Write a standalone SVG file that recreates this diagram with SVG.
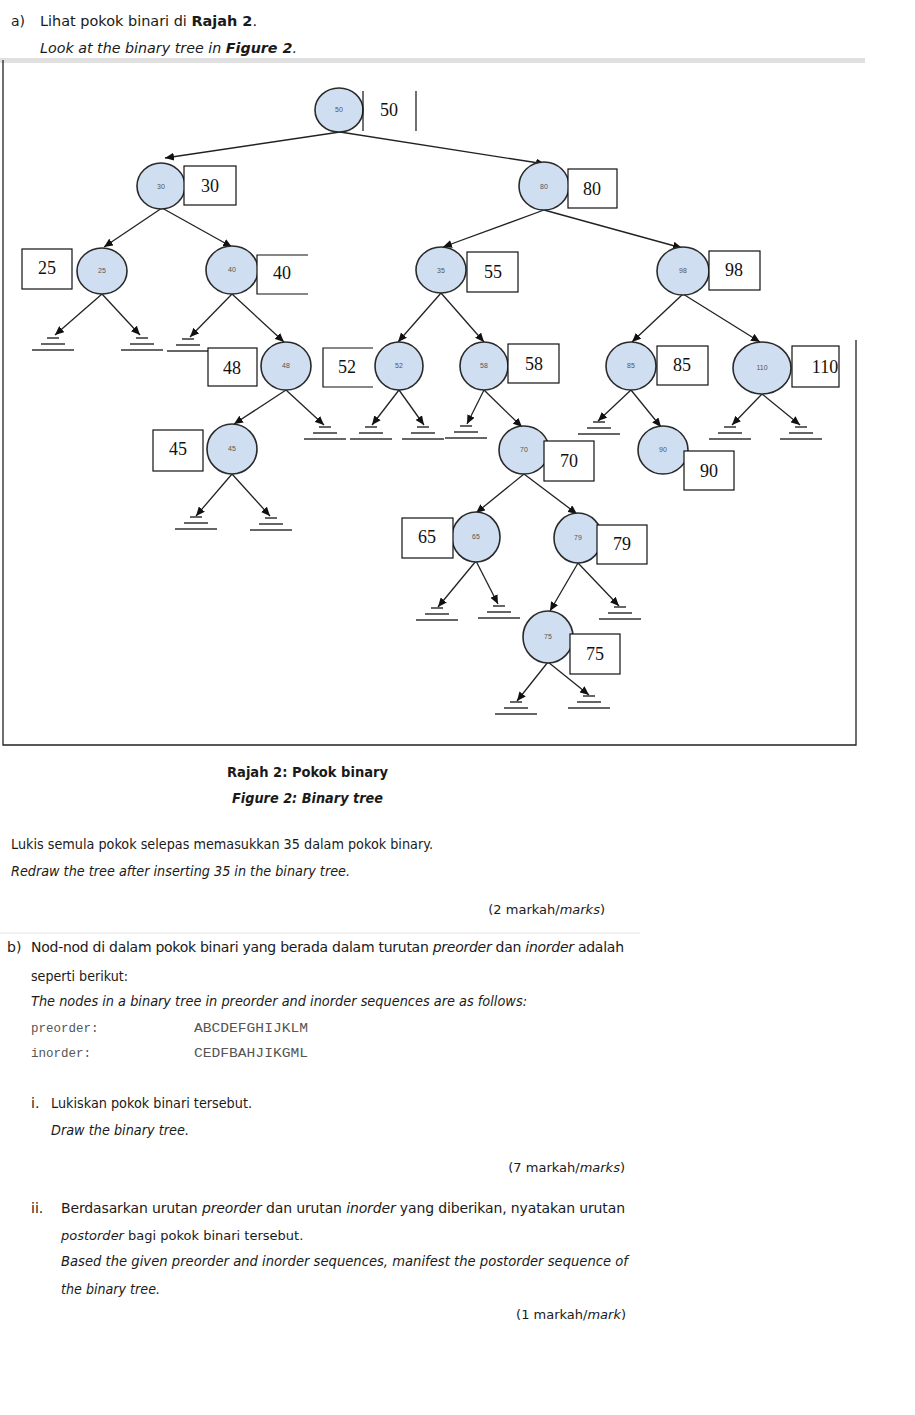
<svg xmlns="http://www.w3.org/2000/svg" xmlns:xlink="http://www.w3.org/1999/xlink" width="915" height="1415" viewBox="0 0 915 1415">
<style>
.t{font-family:"DejaVu Sans","Liberation Sans",sans-serif;font-size:14px;fill:#1a1a1a}
.s{font-size:13px}
.i{font-style:italic}
.b{font-weight:bold}
.m{font-family:"Liberation Mono",monospace;font-size:12.5px;fill:#555}
.nd{fill:#cfdff1;stroke:#2a2a2a;stroke-width:1.6}
.nt{font-family:"Liberation Sans",sans-serif;font-size:7px;fill:#555;text-anchor:middle}
.bx{fill:#fff;stroke:#111;stroke-width:1.2}
.bl{fill:none;stroke:#111;stroke-width:1.2}
.bt{font-family:"Liberation Serif",serif;font-size:18px;fill:#111;text-anchor:middle}
.e{stroke:#222;stroke-width:1.3;fill:none;marker-end:url(#ah)}
.g line{stroke:#333;stroke-width:1.5}
.fr{stroke:#222;stroke-width:1.3;fill:none}
</style>
<defs>
<marker id="ah" markerUnits="userSpaceOnUse" markerWidth="10" markerHeight="8" refX="9" refY="4" orient="auto">
<path d="M0,0 L9,4 L0,8 z" fill="#111"/>
</marker>
<g id="gnd" class="g">
<line x1="-6" y1="0" x2="6" y2="0"/>
<line x1="-12" y1="6" x2="12" y2="6"/>
<line x1="-21" y1="12" x2="21" y2="12"/>
</g>
</defs>
<rect width="915" height="1415" fill="#fff"/>

<g id="header">
<text x="11" y="26" class="t">a)</text>
<text x="40" y="26" class="t" textLength="217" lengthAdjust="spacingAndGlyphs">Lihat pokok binari di <tspan class="b">Rajah 2</tspan>.</text>
<text x="40" y="53" class="t i" textLength="257" lengthAdjust="spacingAndGlyphs">Look at the binary tree in <tspan class="b">Figure 2</tspan>.</text>
</g>

<g id="frame">
<rect x="0" y="58" width="865" height="5" fill="#e0e0e0"/>
<path class="fr" d="M3,60 V745 H856 V340"/>
</g>

<g id="connectors">
<line class="e" x1="340" y1="132" x2="165" y2="158"/>
<line class="e" x1="340" y1="132" x2="545" y2="164"/>
<line class="e" x1="162" y1="208" x2="104" y2="247"/>
<line class="e" x1="162" y1="208" x2="232" y2="247"/>
<line class="e" x1="544" y1="210" x2="443" y2="247"/>
<line class="e" x1="544" y1="210" x2="682" y2="248"/>
<line class="e" x1="102" y1="294" x2="55" y2="335"/>
<line class="e" x1="102" y1="294" x2="140" y2="335"/>
<line class="e" x1="232" y1="294" x2="190" y2="337"/>
<line class="e" x1="232" y1="294" x2="284" y2="342"/>
<line class="e" x1="441" y1="293" x2="398" y2="342"/>
<line class="e" x1="441" y1="293" x2="484" y2="342"/>
<line class="e" x1="683" y1="294" x2="632" y2="342"/>
<line class="e" x1="683" y1="294" x2="760" y2="342"/>
<line class="e" x1="286" y1="390" x2="234" y2="424"/>
<line class="e" x1="286" y1="390" x2="324" y2="425"/>
<line class="e" x1="399" y1="390" x2="372" y2="425"/>
<line class="e" x1="399" y1="390" x2="424" y2="425"/>
<line class="e" x1="484" y1="390" x2="467" y2="424"/>
<line class="e" x1="484" y1="390" x2="522" y2="427"/>
<line class="e" x1="631" y1="390" x2="598" y2="421"/>
<line class="e" x1="631" y1="390" x2="661" y2="427"/>
<line class="e" x1="762" y1="394" x2="732" y2="425"/>
<line class="e" x1="762" y1="394" x2="800" y2="425"/>
<line class="e" x1="232" y1="474" x2="196" y2="516"/>
<line class="e" x1="232" y1="474" x2="270" y2="516"/>
<line class="e" x1="524" y1="474" x2="476" y2="513"/>
<line class="e" x1="524" y1="474" x2="577" y2="514"/>
<line class="e" x1="476" y1="561" x2="438" y2="607"/>
<line class="e" x1="476" y1="561" x2="498" y2="604"/>
<line class="e" x1="578" y1="563" x2="550" y2="611"/>
<line class="e" x1="578" y1="563" x2="619" y2="606"/>
<line class="e" x1="548" y1="662" x2="517" y2="701"/>
<line class="e" x1="548" y1="662" x2="589" y2="695"/>
</g>

<g id="grounds">
<use xlink:href="#gnd" x="53" y="338"/>
<use xlink:href="#gnd" x="142" y="338"/>
<use xlink:href="#gnd" x="188" y="339"/>
<use xlink:href="#gnd" x="325" y="427"/>
<use xlink:href="#gnd" x="371" y="427"/>
<use xlink:href="#gnd" x="423" y="427"/>
<use xlink:href="#gnd" x="466" y="426"/>
<use xlink:href="#gnd" x="599" y="422"/>
<use xlink:href="#gnd" x="730" y="427"/>
<use xlink:href="#gnd" x="801" y="427"/>
<use xlink:href="#gnd" x="196" y="517"/>
<use xlink:href="#gnd" x="271" y="518"/>
<use xlink:href="#gnd" x="437" y="608"/>
<use xlink:href="#gnd" x="499" y="606"/>
<use xlink:href="#gnd" x="620" y="607"/>
<use xlink:href="#gnd" x="516" y="702"/>
<use xlink:href="#gnd" x="589" y="696"/>
</g>

<g id="n50"><ellipse class="nd" cx="339" cy="110" rx="24" ry="22"/><text class="nt" x="339" y="112">50</text>
<line class="bl" x1="363" y1="91" x2="363" y2="131"/><line class="bl" x1="416" y1="91" x2="416" y2="131"/><text class="bt" x="389" y="116">50</text></g>
<g id="n30"><ellipse class="nd" cx="161" cy="186" rx="24" ry="23"/><text class="nt" x="161" y="189">30</text>
<rect class="bx" x="184" y="166" width="52" height="39"/><text class="bt" x="210" y="192">30</text></g>
<g id="n80"><ellipse class="nd" cx="544" cy="186" rx="25" ry="24"/><text class="nt" x="544" y="189">80</text>
<rect class="bx" x="568" y="169" width="49" height="39"/><text class="bt" x="592" y="195">80</text></g>
<g id="n25"><ellipse class="nd" cx="102" cy="271" rx="25" ry="23"/><text class="nt" x="102" y="273">25</text>
<rect class="bx" x="22" y="249" width="50" height="40"/><text class="bt" x="47" y="274">25</text></g>
<g id="n40"><ellipse class="nd" cx="232" cy="270" rx="26" ry="24"/><text class="nt" x="232" y="272">40</text>
<path class="bx" d="M308,255 H257 V294 H308"/><text class="bt" x="282" y="279">40</text></g>
<g id="n35"><ellipse class="nd" cx="441" cy="270" rx="25" ry="23"/><text class="nt" x="441" y="273">35</text>
<rect class="bx" x="467" y="252" width="51" height="40"/><text class="bt" x="493" y="278">55</text></g>
<g id="n98"><ellipse class="nd" cx="683" cy="271" rx="26" ry="24"/><text class="nt" x="683" y="273">98</text>
<rect class="bx" x="709" y="251" width="51" height="39"/><text class="bt" x="734" y="276">98</text></g>
<g id="n48"><ellipse class="nd" cx="286" cy="366" rx="25" ry="24"/><text class="nt" x="286" y="368">48</text>
<rect class="bx" x="208" y="348" width="49" height="38"/><text class="bt" x="232" y="374">48</text></g>
<g id="n52"><ellipse class="nd" cx="399" cy="366" rx="24" ry="24"/><text class="nt" x="399" y="368">52</text>
<path class="bx" d="M373,348 H323 V387 H373"/><text class="bt" x="347" y="373">52</text></g>
<g id="n58"><ellipse class="nd" cx="484" cy="366" rx="24" ry="24"/><text class="nt" x="484" y="368">58</text>
<rect class="bx" x="508" y="344" width="51" height="39"/><text class="bt" x="534" y="370">58</text></g>
<g id="n85"><ellipse class="nd" cx="631" cy="366" rx="25" ry="24"/><text class="nt" x="631" y="368">85</text>
<rect class="bx" x="657" y="346" width="51" height="39"/><text class="bt" x="682" y="371">85</text></g>
<g id="n110"><ellipse class="nd" cx="762" cy="368" rx="29" ry="26"/><text class="nt" x="762" y="370">110</text>
<rect class="bx" x="792" y="346" width="47" height="41"/><text class="bt" x="825" y="373">110</text></g>
<g id="n45"><ellipse class="nd" cx="232" cy="449" rx="25" ry="25"/><text class="nt" x="232" y="451">45</text>
<rect class="bx" x="153" y="430" width="50" height="41"/><text class="bt" x="178" y="455">45</text></g>
<g id="n70"><ellipse class="nd" cx="524" cy="450" rx="25" ry="24"/><text class="nt" x="524" y="452">70</text>
<rect class="bx" x="544" y="441" width="50" height="40"/><text class="bt" x="569" y="467">70</text></g>
<g id="n90"><ellipse class="nd" cx="663" cy="450" rx="25" ry="24"/><text class="nt" x="663" y="452">90</text>
<rect class="bx" x="684" y="451" width="50" height="39"/><text class="bt" x="709" y="477">90</text></g>
<g id="n65"><ellipse class="nd" cx="476" cy="537" rx="24" ry="25"/><text class="nt" x="476" y="539">65</text>
<rect class="bx" x="402" y="518" width="51" height="40"/><text class="bt" x="427" y="543">65</text></g>
<g id="n79"><ellipse class="nd" cx="578" cy="538" rx="24" ry="25"/><text class="nt" x="578" y="540">79</text>
<rect class="bx" x="597" y="525" width="50" height="39"/><text class="bt" x="622" y="550">79</text></g>
<g id="n75"><ellipse class="nd" cx="548" cy="637" rx="25" ry="26"/><text class="nt" x="548" y="639">75</text>
<rect class="bx" x="570" y="634" width="50" height="40"/><text class="bt" x="595" y="660">75</text></g>

<g id="caption">
<text x="227" y="777" class="t b" textLength="161" lengthAdjust="spacingAndGlyphs">Rajah 2: Pokok binary</text>
<text x="232" y="803" class="t b i" textLength="151" lengthAdjust="spacingAndGlyphs">Figure 2: Binary tree</text>
<text x="11" y="849" class="t" textLength="422" lengthAdjust="spacingAndGlyphs">Lukis semula pokok selepas memasukkan 35 dalam pokok binary.</text>
<text x="11" y="876" class="t i" textLength="339" lengthAdjust="spacingAndGlyphs">Redraw the tree after inserting 35 in the binary tree.</text>
<text x="605" y="914" class="t s" text-anchor="end">(2 markah/<tspan class="i">marks</tspan>)</text>
</g>

<line x1="0" y1="933" x2="640" y2="933" stroke="#ececec" stroke-width="1.5"/>

<g id="partb">
<text x="7" y="952" class="t">b)</text>
<text x="31" y="952" class="t" textLength="593" lengthAdjust="spacing">Nod-nod di dalam pokok binari yang berada dalam turutan <tspan class="i">preorder</tspan> dan <tspan class="i">inorder</tspan> adalah</text>
<text x="31" y="981" class="t" textLength="97" lengthAdjust="spacingAndGlyphs">seperti berikut:</text>
<text x="31" y="1006" class="t i" textLength="496" lengthAdjust="spacingAndGlyphs">The nodes in a binary tree in preorder and inorder sequences are as follows:</text>
<text x="31" y="1032" class="m">preorder:</text>
<text x="194" y="1032" class="m" textLength="114" lengthAdjust="spacingAndGlyphs">ABCDEFGHIJKLM</text>
<text x="31" y="1057" class="m">inorder:</text>
<text x="194" y="1057" class="m" textLength="114" lengthAdjust="spacingAndGlyphs">CEDFBAHJIKGML</text>
<text x="31" y="1108" class="t">i.</text>
<text x="51" y="1108" class="t" textLength="201" lengthAdjust="spacingAndGlyphs">Lukiskan pokok binari tersebut.</text>
<text x="51" y="1135" class="t i" textLength="138" lengthAdjust="spacingAndGlyphs">Draw the binary tree.</text>
<text x="625" y="1172" class="t s" text-anchor="end">(7 markah/<tspan class="i">marks</tspan>)</text>
<text x="31" y="1213" class="t">ii.</text>
<text x="61" y="1213" class="t" textLength="564" lengthAdjust="spacing">Berdasarkan urutan <tspan class="i">preorder</tspan> dan urutan <tspan class="i">inorder</tspan> yang diberikan, nyatakan urutan</text>
<text x="61" y="1240" class="t s"><tspan class="i">postorder</tspan> bagi pokok binari tersebut.</text>
<text x="61" y="1266" class="t i" textLength="567" lengthAdjust="spacingAndGlyphs">Based the given preorder and inorder sequences, manifest the postorder sequence of</text>
<text x="61" y="1294" class="t i" textLength="99" lengthAdjust="spacingAndGlyphs">the binary tree.</text>
<text x="626" y="1319" class="t s" text-anchor="end">(1 markah/<tspan class="i">mark</tspan>)</text>
</g>
</svg>
